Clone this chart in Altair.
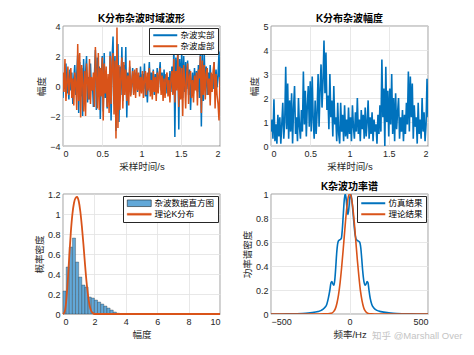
import altair as alt
import pandas as pd

FONT = "Liberation Sans, Noto Sans CJK SC, sans-serif"
BLUE = "#0072BD"
ORANGE = "#D95319"
HIST = "#62A8D8"
INK = "#262626"

# ---------------- data ----------------
time_step = 0.0125
re_part = [
    -0.8, 0.6, -0.2, 1.5, -0.5, 0.3, -0.9, 1.1,
    -0.3, 0.9, -1.2, 0.5, 1.4, -0.6, 0.8, 2.1,
    -1.8, 1.6, -0.7, 1.2, -2.0, 1.8, -0.4, 0.9,
    2.0, -1.1, 0.6, -0.9, 1.5, -0.3, 0.2, -1.4,
    0.7, 2.4, -1.6, 1.9, -0.5, 1.3, -2.2, 0.6,
    2.0, -1.7, 2.2, -0.8, 0.3, -1.5, 0.4, -1.0,
    2.3, -2.3, 1.8, 3.3, -1.2, 2.0, -3.0, 1.5,
    2.8, -2.4, 1.3, -0.6, 2.6, -1.0, 1.4, -0.3,
    2.6, -2.1, 0.9, -0.2, 1.3, -0.6, 0.1, 1.2,
    -0.5, 0.9, -0.1, 1.2, -0.4, 0.7, -0.2, 1.3,
    -0.4, 0.8, -0.2, 1.5, -0.7, 0.2, -1.1, 0.5,
    1.6, -0.4, 0.9, -0.1, 1.1, -0.6, 0.8, -0.2,
    1.2, -0.3, 0.7, 1.6, -0.3, 0.9, -0.4, 1.1,
    -0.2, 0.8, -0.5, 0.6, -0.1, 1.0, -0.4, 1.3,
    -0.5, 2.7, -3.4, 1.9, 0.0, 2.5, -2.9, 1.8,
    -0.3, 2.3, -0.8, 2.0, -0.4, 1.6, -0.2, 1.7,
    -0.6, 1.1, -1.6, 0.2, 0.9, -0.5, 1.2, -0.1,
    1.0, -0.4, 1.4, -0.8, 2.4, -2.7, 2.2, -1.0,
    2.1, -0.2, 1.3, -0.6, 0.9, -0.1, 1.4, -0.4,
    0.8, -0.2, 1.6, -0.5, 1.1, -0.1, 0.7, 2.3,
    -0.9,
]
im_part = [
    0.9, -0.4, 1.8, -1.0, 0.2, 1.3, -0.6, 0.4,
    1.2, -0.8, 0.5, -1.3, 0.9, 0.2, -1.6, 2.8,
    -1.0, 2.2, -2.1, 1.4, 0.3, -1.7, 1.0, -2.0,
    1.5, 0.4, -0.9, 1.8, -1.2, 0.6, -0.3, 0.9,
    -1.4, 2.6, 0.6, -1.5, 2.2, -1.6, 1.2, -0.7,
    1.9, -2.3, 1.5, -0.5, 1.3, -1.4, 0.8, -1.8,
    2.0, -1.2, 1.6, 2.2, -1.9, 1.7, -3.5, 3.9,
    -2.8, 1.4, -1.6, 0.8, 1.9, -1.5, 1.6, -0.6,
    1.1, -1.0, 0.7, -1.3, 1.7, -0.7, 0.3, 1.0,
    -0.6, 1.1, -0.8, 1.2, -0.3, 0.9, -0.7, 0.6,
    -0.5, 1.0, -0.8, 0.4, 1.0, -0.6, 0.9, -0.3,
    1.2, -0.7, 0.4, -0.9, 1.0, -0.4, 0.6, -1.0,
    0.9, -0.5, 0.8, 1.2, -0.6, 0.7, -1.0, 0.5,
    -0.8, 0.6, 0.9, -0.7, 0.4, -1.1, 0.5, 1.0,
    -0.6, 1.8, -1.1, 1.0, -0.3, 2.1, -1.4, 1.3,
    -0.9, 1.2, -2.0, 1.4, 0.3, -1.5, 0.8, 1.5,
    -1.2, 0.6, 1.0, -0.8, 0.4, -1.1, 0.7, -0.3,
    0.9, -1.3, 1.1, 0.5, 2.0, -1.8, 1.7, -0.6,
    1.4, -0.9, 0.8, 1.2, -0.6, 0.5, -1.3, 0.9,
    -0.4, 1.0, 1.6, -1.5, 0.8, -0.6, -1.2, -2.3,
    0.6,
]
amplitude = [
    0.6, 1.1, 0.3, 1.95, 0.2, 0.9, 0.1, 1.3,
    0.4, 1.2, 0.1, 0.9, 1.8, 0.3, 1.0, 3.3,
    0.7, 2.6, 0.3, 1.9, 0.6, 2.2, 0.1, 1.6,
    2.5, 0.5, 1.2, 0.2, 2.0, 0.8, 0.3, 1.5,
    0.6, 3.1, 0.9, 2.3, 0.4, 1.7, 2.5, 0.8,
    2.7, 0.6, 2.9, 1.1, 0.3, 1.9, 0.5, 1.4,
    3.0, 0.8, 2.4, 3.4, 1.6, 2.7, 4.4, 2.2,
    3.9, 1.5, 2.1, 0.7, 3.0, 1.2, 1.9, 0.4,
    2.5, 0.9, 1.2, 0.2, 1.8, 0.5, 0.1, 1.8,
    0.6, 1.3, 0.2, 1.7, 0.4, 1.1, 0.3, 1.6,
    0.5, 1.2, 0.2, 1.7, 0.8, 0.3, 1.4, 0.6,
    2.0, 0.5, 1.1, 0.2, 1.5, 0.7, 1.3, 0.3,
    1.6, 0.4, 1.0, 1.9, 0.3, 1.2, 0.5, 1.4,
    0.2, 1.1, 0.6, 0.9, 0.1, 1.3, 0.5, 1.7,
    0.6, 3.6, 1.2, 2.4, 0.0, 3.3, 1.0, 2.3,
    0.4, 2.4, 0.9, 3.0, 0.5, 2.0, 0.2, 2.2,
    0.7, 1.4, 2.0, 0.3, 1.2, 0.6, 1.5, 0.2,
    1.3, 0.5, 1.8, 0.9, 3.1, 0.6, 2.9, 1.2,
    2.6, 0.3, 1.7, 0.8, 1.2, 0.1, 1.8, 0.5,
    1.1, 0.3, 2.0, 0.6, 1.4, 0.2, 0.9, 2.8,
    1.2,
]
sample_time = [round(i * time_step, 4) for i in range(len(re_part))]

hist_width = 0.2
hist_left = [0.0, 0.2, 0.4, 0.6, 0.8, 1.0, 1.2, 1.4, 1.6, 1.8, 2.0,
             2.2, 2.4, 2.6, 2.8, 3.0, 3.2, 3.4, 3.6, 3.8, 4.0, 4.2]
hist_density = [0.23, 0.47, 0.67, 0.76, 0.52, 0.37, 0.29, 0.27, 0.17, 0.16, 0.14,
                0.12, 0.10, 0.08, 0.06, 0.04, 0.02, 0.008, 0.004, 0.003, 0.002, 0.002]

pdf_x = [0.0, 0.1, 0.2, 0.3, 0.4, 0.5, 0.6, 0.7, 0.8, 0.9, 1.0, 1.1, 1.2, 1.3,
         1.4, 1.5, 1.6, 1.7, 1.8, 1.9, 2.0, 2.5, 3, 4, 5, 6, 7, 8, 9, 10]
pdf_y = [0.0, 0.02, 0.12, 0.32, 0.58, 0.82, 1.0, 1.11, 1.16, 1.17, 1.13, 1.03, 0.88, 0.7,
         0.5, 0.32, 0.18, 0.08, 0.03, 0.01, 0.0, 0.0, 0, 0, 0, 0, 0, 0, 0, 0]

sim_f = [-500, -400, -300, -250, -200, -180, -160, -145, -135, -125, -118, -112, -106,
         -100, -94, -88, -82, -76, -70, -60, -52, -46, -40, -34, -28, -22, -16, -10,
         -4, 2, 8, 14, 20, 28, 36, 44, 54, 64, 72, 78, 84, 92, 100, 106, 112, 118,
         124, 132, 142, 155, 175, 200, 250, 300, 400, 500]
sim_psd = [0.0, 0.001, 0.004, 0.01, 0.02, 0.03, 0.05, 0.08, 0.13, 0.2, 0.26, 0.27, 0.25,
           0.24, 0.28, 0.38, 0.5, 0.58, 0.61, 0.62, 0.63, 0.7, 0.82, 0.94, 1.0, 0.97, 0.88, 0.83,
           0.88, 0.97, 1.0, 0.96, 0.88, 0.76, 0.66, 0.62, 0.61, 0.6, 0.55, 0.46, 0.36, 0.27, 0.24, 0.25, 0.27, 0.26,
           0.2, 0.13, 0.08, 0.05, 0.03, 0.02, 0.01, 0.004, 0.001, 0.0]
theory_f = [-500, -300, -200, -160, -140, -120, -110, -100, -90, -80, -70, -60, -50, -40,
            -30, -20, -10, 0, 5, 10, 20, 30, 40, 50, 60, 70, 80, 90, 100, 110, 120, 140,
            160, 200, 300, 500]
theory_psd = [0.0, 0.0, 0.0, 0.001, 0.002, 0.005, 0.01, 0.022, 0.045, 0.09, 0.16, 0.26, 0.39, 0.54,
              0.7, 0.85, 0.96, 1.0, 1.0, 0.98, 0.9, 0.77, 0.61, 0.45, 0.31, 0.19, 0.11, 0.055, 0.026,
              0.012, 0.005, 0.001, 0.0, 0.0, 0.0, 0.0]

names1 = ["杂波实部", "杂波虚部"]
names3 = ["杂波数据直方图", "理论K分布"]
names4 = ["仿真结果", "理论结果"]
watermark = ["知乎 @Marshall Over"]

LINE_PATH = "M-1,0H7"
RECT_PATH = "M-1,-1.1H7V1.1H-1Z"
THIN_PATH = "M-1,-0.3H7V0.3H-1Z"

W, H = 157, 120


def ax(values, title):
    return alt.Axis(values=values, title=title, format=".4~f", grid=True, ticks=False,
                    domain=False, labelPadding=3, titlePadding=3, labelOverlap=False)


def leg(symbol_type=LINE_PATH, stroke_w=2.0):
    return alt.Legend(title=None, orient="top-right", offset=2, padding=3, rowPadding=2,
                      fillColor="white", strokeColor=INK, labelFontSize=8.5, labelFont=FONT,
                      labelColor="#000000", symbolSize=36, labelOffset=20,
                      symbolStrokeWidth=stroke_w, symbolType=symbol_type, symbolOpacity=1,
                      cornerRadius=0)


def title(text):
    return alt.TitleParams(text, fontSize=10, fontWeight="bold", font=FONT, offset=-2, color="#000000")


# ---------------- panel 1 ----------------
df_re = pd.DataFrame({"t": sample_time, "v": re_part, "s": names1[0]})
df_im = pd.DataFrame({"t": sample_time, "v": im_part, "s": names1[1]})
x1 = alt.X("t:Q", scale=alt.Scale(domain=[0, 2], nice=False), axis=ax([0, 0.5, 1, 1.5, 2], "采样时间/s"))
y1 = alt.Y("v:Q", scale=alt.Scale(domain=[-4, 4], nice=False), axis=ax([-4, -2, 0, 2, 4], "幅度"))
c1 = alt.Color("s:N", scale=alt.Scale(domain=names1, range=[BLUE, ORANGE]), legend=leg())
p1 = alt.layer(
    alt.Chart(df_re).mark_line(strokeWidth=1.5, clip=True).encode(x=x1, y=y1, color=c1),
    alt.Chart(df_im).mark_line(strokeWidth=1.5, clip=True).encode(x=x1, y=y1, color=c1),
).properties(width=W, height=H, title=title("K分布杂波时域波形"))

# ---------------- panel 2 ----------------
df_amp = pd.DataFrame({"t": sample_time, "a": amplitude})
p2 = alt.Chart(df_amp).mark_line(strokeWidth=1.6, color=BLUE, clip=True).encode(
    x=alt.X("t:Q", scale=alt.Scale(domain=[0, 2], nice=False), axis=ax([0, 0.5, 1, 1.5, 2], "采样时间/s")),
    y=alt.Y("a:Q", scale=alt.Scale(domain=[0, 5], nice=False), axis=ax([0, 1, 2, 3, 4, 5], "幅度")),
).properties(width=W, height=H, title=title("K分布杂波幅度"))

# ---------------- panel 3 ----------------
df_hist = pd.DataFrame({"x0": hist_left,
                        "x1": [round(v + hist_width, 3) for v in hist_left],
                        "d": hist_density})
df_pdf = pd.DataFrame({"x0": pdf_x, "d": pdf_y})
x3 = alt.X("x0:Q", scale=alt.Scale(domain=[0, 10], nice=False), axis=ax([0, 2, 4, 6, 8, 10], "幅度"))
y3 = alt.Y("d:Q", scale=alt.Scale(domain=[0, 1.2], nice=False), axis=ax([0, 0.2, 0.4, 0.6, 0.8, 1, 1.2], "概率密度"))
bars = alt.Chart(df_hist).mark_rect(fill=HIST, stroke="#1a1a1a", strokeWidth=0.3).encode(
    x=x3, x2="x1:Q", y=y3, y2=alt.datum(0),
)
pdf_line = alt.Chart(df_pdf).mark_line(color=ORANGE, strokeWidth=1.8, interpolate="monotone").encode(
    x=x3, y=y3)
leg3 = leg(RECT_PATH, 0.5)
legend_pts = alt.Chart(pd.DataFrame({"name": pd.Series([], dtype=str)})).mark_point(filled=True).encode(
    fill=alt.Fill("name:N", scale=alt.Scale(domain=names3, range=[HIST, ORANGE]), legend=leg3),
    stroke=alt.Stroke("name:N", scale=alt.Scale(domain=names3, range=["#000000", ORANGE]), legend=leg3),
    shape=alt.Shape("name:N", scale=alt.Scale(domain=names3, range=[RECT_PATH, THIN_PATH]), legend=leg3),
)
p3 = alt.layer(bars, pdf_line, legend_pts).properties(width=W, height=H)

# ---------------- panel 4 ----------------
df_sim = pd.DataFrame({"f": sim_f, "p": sim_psd, "s": names4[0]})
df_th = pd.DataFrame({"f": theory_f, "p": theory_psd, "s": names4[1]})
x4 = alt.X("f:Q", scale=alt.Scale(domain=[-500, 500], nice=False), axis=ax([-500, 0, 500], "频率/Hz"))
y4 = alt.Y("p:Q", scale=alt.Scale(domain=[0, 1], nice=False), axis=ax([0, 0.2, 0.4, 0.6, 0.8, 1], "功率谱密度"))
c4 = alt.Color("s:N", scale=alt.Scale(domain=names4, range=[BLUE, ORANGE]), legend=leg())
wm = alt.Chart(pd.DataFrame({"w": watermark})).mark_text(
    align="left", baseline="middle", fontSize=9.5, font=FONT, color="#c4c4c4"
).encode(text="w:N", x=alt.value(101), y=alt.value(142))
p4 = alt.layer(
    alt.Chart(df_sim).mark_line(strokeWidth=1.6, interpolate="monotone", clip=True).encode(x=x4, y=y4, color=c4),
    alt.Chart(df_th).mark_line(strokeWidth=1.6, interpolate="monotone", clip=True).encode(x=x4, y=y4, color=c4),
    wm,
).properties(width=W, height=H, title=title("K杂波功率谱"))

chart = alt.concat(
    p1, p2, p3, p4, columns=2, spacing={"row": 48, "column": 51}, bounds="flush"
).resolve_scale(
    color="independent", fill="independent", stroke="independent", shape="independent"
).resolve_legend(
    color="independent", fill="independent", stroke="independent", shape="independent"
).properties(
    padding={"left": 26, "top": 5, "right": 2, "bottom": 2}
).configure_axis(
    labelFont=FONT, titleFont=FONT, labelFontSize=9, titleFontSize=9.5,
    labelColor=INK, titleColor=INK, gridColor="#e2e2e2", gridWidth=0.8,
    titleFontWeight="normal",
).configure_view(
    stroke=INK, strokeWidth=0.7
).configure_legend(
    labelFont=FONT
)

chart.save("out.html", embed_options={"renderer": "svg", "actions": False})
